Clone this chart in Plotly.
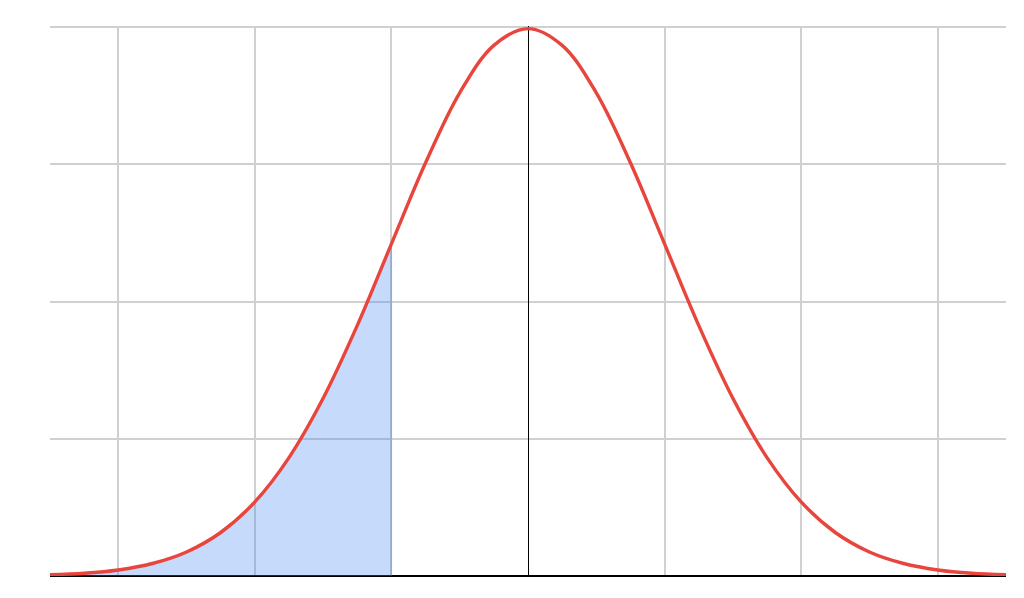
import plotly.graph_objects as go

# standard normal curve at 0.25 steps
x_vals = [-3.5, -3.25, -3.0, -2.75, -2.5, -2.25, -2.0, -1.75, -1.5, -1.25, -1.0,
          -0.75, -0.5, -0.25, 0.0, 0.25, 0.5, 0.75, 1.0, 1.25, 1.5, 1.75, 2.0,
          2.25, 2.5, 2.75, 3.0, 3.25, 3.5]
y_vals = [0.0009, 0.0020, 0.0044, 0.0091, 0.0175, 0.0317, 0.0540, 0.0863, 0.1295,
          0.1826, 0.2420, 0.3011, 0.3521, 0.3867, 0.3989, 0.3867, 0.3521, 0.3011,
          0.2420, 0.1826, 0.1295, 0.0863, 0.0540, 0.0317, 0.0175, 0.0091, 0.0044,
          0.0020, 0.0009]
shade_to = -1.0

# shaded region under the curve up to shade_to
sx = [x for x in x_vals if x <= shade_to]
sy = y_vals[:len(sx)]

fig = go.Figure()
fig.add_trace(go.Scatter(x=sx, y=sy, fill='tozeroy', mode='lines',
                         fillcolor='rgba(66,133,244,0.30)',
                         line=dict(width=0, shape='spline'),
                         hoverinfo='skip', showlegend=False))
# edge of the shaded area
fig.add_trace(go.Scatter(x=[shade_to, shade_to], y=[0, sy[-1]], mode='lines',
                         line=dict(color='rgba(90,120,170,0.35)', width=1.3),
                         hoverinfo='skip', showlegend=False))
fig.add_trace(go.Scatter(x=x_vals, y=y_vals, mode='lines',
                         line=dict(color='#e8453c', width=3.4, shape='spline'),
                         showlegend=False))

fig.update_layout(
    width=1016, height=590,
    margin=dict(l=42, r=18, t=18, b=22),
    paper_bgcolor='white', plot_bgcolor='white',
    xaxis=dict(range=[-3.5, 3.5], tickvals=[-3, -2, -1, 0, 1, 2, 3], showticklabels=False,
               showgrid=True, gridcolor='#d0d0d0', gridwidth=1.5,
               zeroline=True, zerolinecolor='black', zerolinewidth=1.3, showline=False),
    yaxis=dict(range=[0, 0.4008], tickvals=[0, 0.1, 0.2, 0.3, 0.4], showticklabels=False,
               showgrid=True, gridcolor='#d0d0d0', gridwidth=1.5,
               zeroline=True, zerolinecolor='black', zerolinewidth=1.6, showline=False),
)

fig.write_html("out.html")
